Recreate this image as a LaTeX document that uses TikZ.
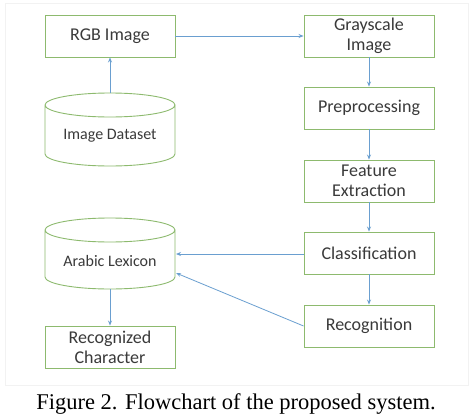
\documentclass[tikz,border=0pt]{standalone}
\usepackage{fontspec}
\setmainfont{Carlito}
\newfontfamily\capfont{Liberation Serif}
\usetikzlibrary{arrows.meta}
\definecolor{boxgreen}{HTML}{8DBA6E}
\definecolor{arrblue}{HTML}{6A9FD0}
\definecolor{txtgray}{HTML}{3A3A3A}
\tikzset{
  procbox/.style={draw=boxgreen, line width=0.9pt, minimum width=130pt, minimum height=42pt, inner sep=1pt, align=center, font=\fontsize{18}{20}\selectfont, text=txtgray},
  cyltext/.style={font=\fontsize{16}{18}\selectfont, text=txtgray},
  conn/.style={draw=arrblue, line width=0.8pt, -{Stealth[length=5pt,width=4pt]}},
}
\begin{document}
\begin{tikzpicture}[x=1pt,y=-1pt]
\useasboundingbox (0,0) rectangle (474,415);
\fill[white] (0,0) rectangle (474,415);
\draw[gray!10, line width=1pt] (5,3) rectangle (468,385);
% boxes
\node[procbox] (rgb) at (110,36) {RGB Image};
\node[procbox] (gray) at (369,36) {Grayscale\\Image};
\node[procbox] (pre) at (369,108) {Preprocessing};
\node[procbox] (feat) at (369,181) {Feature\\Extraction};
\node[procbox] (cls) at (369,253) {Classification};
\node[procbox] (rec) at (369,326) {Recognition};
\node[procbox] (chr) at (110,347) {Recognized\\Character};
% cylinders
\draw[boxgreen, line width=0.9pt] (45,105) arc[start angle=180, end angle=0, x radius=65, y radius=12]
  arc[start angle=0, end angle=-180, x radius=65, y radius=12] -- (45,154)
  arc[start angle=180, end angle=0, x radius=65, y radius=12] -- (175,105);
\node[cyltext] (ds) at (110,136) {Image Dataset};
\coordinate (dstop) at (110,93);
\draw[boxgreen, line width=0.9pt] (45,230) arc[start angle=180, end angle=0, x radius=65, y radius=12]
  arc[start angle=0, end angle=-180, x radius=65, y radius=12] -- (45,277)
  arc[start angle=180, end angle=0, x radius=65, y radius=12] -- (175,230);
\node[cyltext] (lex) at (110,261) {Arabic Lexicon};
\coordinate (lextop) at (110,218);
\coordinate (lexbot) at (110,289);
\coordinate (lexin1) at (176,254);
\coordinate (lexin2) at (176,273);
% connectors
\draw[conn] (rgb.east) -- (gray.west);
\draw[conn] (gray) -- (pre);
\draw[conn] (pre) -- (feat);
\draw[conn] (feat) -- (cls);
\draw[conn] (cls) -- (rec);
\draw[conn] (dstop) -- (rgb.south);
\draw[conn] (cls.west |- lexin1) -- (lexin1);
\draw[conn] (rec.west) -- (lexin2);
\draw[conn] (lexbot) -- (chr.north);
% caption
\node[font=\capfont\fontsize{22.5}{26}\selectfont, text=black] (cap) at (236,404) {Figure 2. Flowchart of the proposed system.};
\end{tikzpicture}
\end{document}
